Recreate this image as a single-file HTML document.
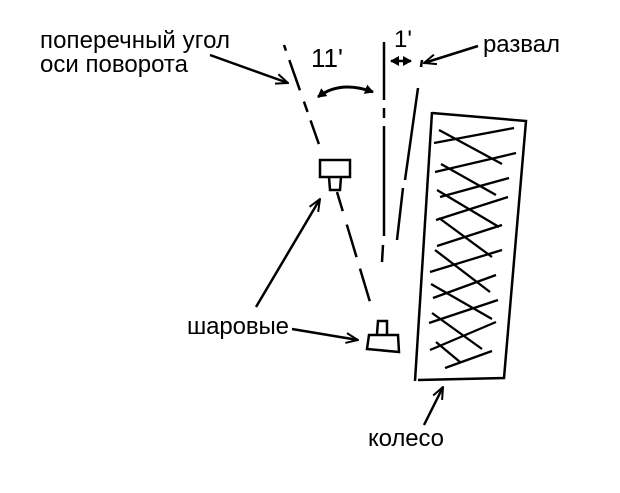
<!DOCTYPE html>
<html><head><meta charset="utf-8"><style>
html,body{margin:0;padding:0;background:#fff;width:620px;height:493px;overflow:hidden}
svg{display:block}
text{font-family:"Liberation Sans",sans-serif;font-size:24px;fill:#000}
</style></head><body>
<svg width="620" height="493" viewBox="0 0 620 493" xmlns="http://www.w3.org/2000/svg">
<defs>
<marker id="ah" markerWidth="14" markerHeight="12" refX="13" refY="6" orient="auto" markerUnits="userSpaceOnUse">
<path d="M1,1 L13,6 L1,11" fill="none" stroke="#000" stroke-width="2"/>
</marker>
<marker id="fh" markerWidth="10" markerHeight="10" refX="8" refY="5" orient="auto-start-reverse" markerUnits="userSpaceOnUse">
<path d="M0,0 L9,5 L0,10 Z" fill="#000"/>
</marker>
</defs>
<g stroke="#000" stroke-width="2.5" fill="none" stroke-linecap="butt">
<line x1="284" y1="45" x2="322" y2="153" stroke-dasharray="6,10,32,12,11,9,25,100"/>
<line x1="337" y1="192" x2="373" y2="312" stroke-dasharray="20,14,34,12,34,12"/>
<line x1="384" y1="42" x2="384" y2="100" />
<line x1="384" y1="108" x2="384" y2="118" />
<line x1="384" y1="126" x2="384" y2="236" />
<line x1="383" y1="245" x2="382" y2="262" />
<line x1="422" y1="60" x2="421" y2="67"/>
<line x1="418" y1="88" x2="405" y2="180"/>
<line x1="403" y1="188" x2="397" y2="240"/>
<rect x="320" y="160" width="30" height="17"/>
<path d="M329,177 L330,190 L340,190 L341,177"/>
<path d="M377,334 L378,321 L387,321 L387,334"/>
<path d="M369,335 L398,335 L399,352 L367,349 Z"/>
<line x1="432" y1="112" x2="415" y2="381"/>
<path d="M432,113 L526,121 L504,378 L418,380"/>
<g stroke-width="2.3">
<line x1="434" y1="143" x2="514" y2="128"/>
<line x1="435" y1="172" x2="516" y2="153"/>
<line x1="440" y1="197" x2="509" y2="178"/>
<line x1="436" y1="220" x2="508" y2="197"/>
<line x1="437" y1="246" x2="502" y2="225"/>
<line x1="430" y1="272" x2="502" y2="250"/>
<line x1="433" y1="298" x2="496" y2="275"/>
<line x1="429" y1="323" x2="498" y2="300"/>
<line x1="430" y1="350" x2="496" y2="322"/>
<line x1="445" y1="368" x2="492" y2="351"/>
<line x1="439" y1="130" x2="502" y2="164"/>
<line x1="441" y1="164" x2="496" y2="195"/>
<line x1="437" y1="190" x2="499" y2="227"/>
<line x1="439" y1="218" x2="492" y2="257"/>
<line x1="435" y1="250" x2="490" y2="292"/>
<line x1="431" y1="284" x2="492" y2="319"/>
<line x1="432" y1="313" x2="482" y2="349"/>
<line x1="436" y1="342" x2="460" y2="362"/>
</g>
<line x1="210" y1="55" x2="288" y2="83" marker-end="url(#ah)"/>
<line x1="256" y1="307" x2="320" y2="199" marker-end="url(#ah)"/>
<line x1="292" y1="329" x2="358" y2="340" marker-end="url(#ah)"/>
<line x1="424" y1="425" x2="443" y2="387" marker-end="url(#ah)"/>
<line x1="478" y1="46" x2="424" y2="63" marker-end="url(#ah)"/>
<path d="M318,97 Q340,80 373,92" marker-start="url(#fh)" marker-end="url(#fh)" stroke-width="3"/>
<line x1="391" y1="61" x2="411" y2="61" marker-start="url(#fh)" marker-end="url(#fh)" stroke-width="2.5"/>
</g>
<text x="40" y="48" textLength="190">поперечный угол</text>
<text x="40" y="72" textLength="148">оси поворота</text>
<text x="311" y="67" style="font-size:26px">11'</text>
<text x="394" y="47">1'</text>
<text x="483" y="52" textLength="77">развал</text>
<text x="187" y="334" textLength="102">шаровые</text>
<text x="368" y="446" textLength="76">колесо</text>
</svg>
</body></html>
